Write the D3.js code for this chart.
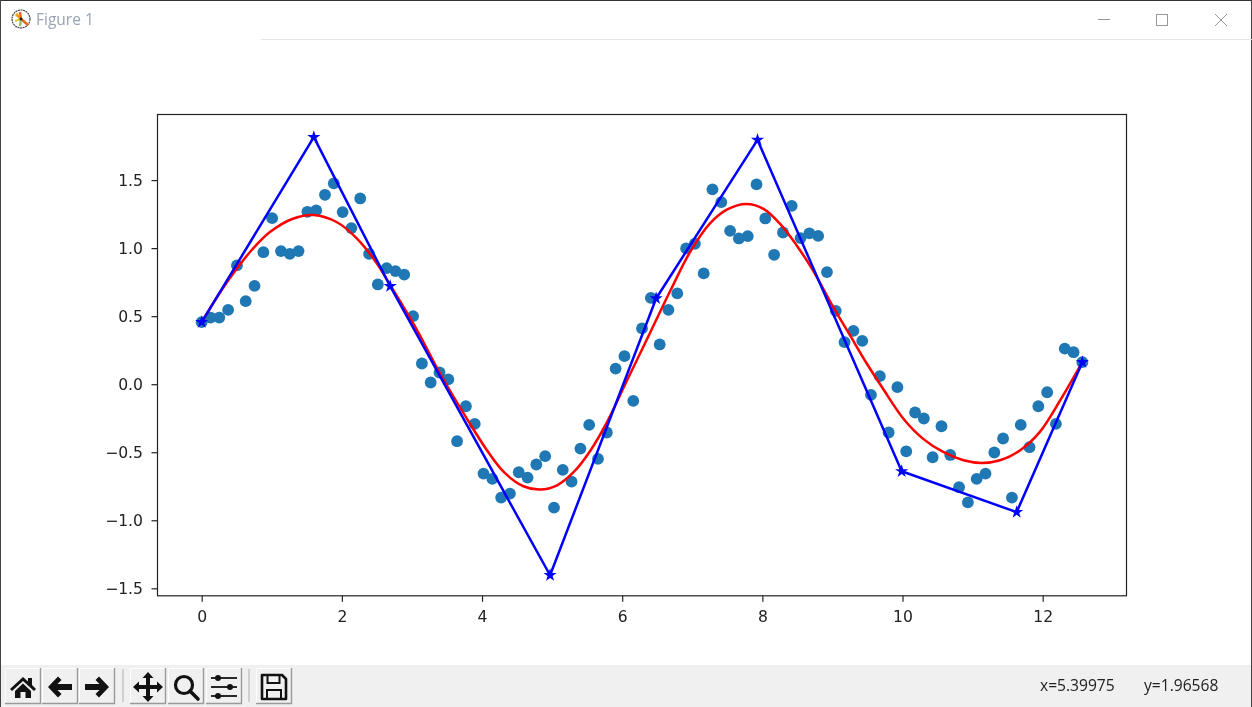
<!DOCTYPE html>
<html>
<head>
<meta charset="utf-8">
<script src="https://d3js.org/d3.v7.min.js"></script>
<style>
  html, body { margin: 0; padding: 0; background: #fff; overflow: hidden; }
  svg { display: block; filter: blur(0.35px); }
</style>
</head>
<body>
<div id="my_dataviz"></div>
<script>
  // noisy samples (scatter)
  var sampleX = [0, 0.126, 0.251, 0.377, 0.503, 0.628, 0.754, 0.880, 1.005, 1.131,
    1.257, 1.382, 1.508, 1.634, 1.759, 1.885, 2.011, 2.136, 2.262, 2.388,
    2.513, 2.639, 2.765, 2.890, 3.016, 3.142, 3.267, 3.393, 3.519, 3.644,
    3.770, 3.896, 4.021, 4.147, 4.273, 4.398, 4.524, 4.650, 4.775, 4.901,
    5.027, 5.152, 5.278, 5.404, 5.529, 5.655, 5.781, 5.906, 6.032, 6.158,
    6.283, 6.409, 6.535, 6.660, 6.786, 6.912, 7.037, 7.163, 7.288, 7.414,
    7.540, 7.665, 7.791, 7.917, 8.042, 8.168, 8.294, 8.419, 8.545, 8.671,
    8.796, 8.922, 9.048, 9.173, 9.299, 9.425, 9.550, 9.676, 9.802, 9.927,
    10.053, 10.179, 10.304, 10.430, 10.556, 10.681, 10.807, 10.933, 11.058, 11.184,
    11.310, 11.435, 11.561, 11.687, 11.812, 11.938, 12.064, 12.189, 12.315, 12.441,
    12.566];
  var sampleY = [0.456, 0.49, 0.49, 0.546, 0.873, 0.61, 0.723, 0.97, 1.22, 0.978,
    0.958, 0.978, 1.267, 1.277, 1.392, 1.476, 1.265, 1.147, 1.365, 0.958,
    0.733, 0.853, 0.831, 0.805, 0.5, 0.152, 0.0125, 0.086, 0.035, -0.419,
    -0.162, -0.292, -0.657, -0.696, -0.833, -0.804, -0.647, -0.686, -0.59, -0.529,
    -0.907, -0.63, -0.716, -0.473, -0.299, -0.549, -0.355, 0.115, 0.206, -0.123,
    0.41, 0.634, 0.292, 0.546, 0.667, 0.998, 1.032, 0.814, 1.432, 1.338,
    1.127, 1.071, 1.088, 1.468, 1.218, 0.951, 1.115, 1.311, 1.074, 1.108,
    1.09, 0.824, 0.539, 0.309, 0.392, 0.318, -0.079, 0.059, -0.355, -0.022,
    -0.493, -0.208, -0.252, -0.537, -0.309, -0.52, -0.757, -0.868, -0.696, -0.657,
    -0.502, -0.399, -0.833, -0.299, -0.463, -0.162, -0.059, -0.292, 0.262, 0.235,
    0.162];

  // smooth fit (red)
  var fitX = [0, 0.25, 0.48, 0.72, 0.978, 1.31, 1.6, 1.93, 2.216, 2.5, 2.69, 3.07, 3.405, 3.786, 4.07, 4.31,
    4.59, 4.83, 5.07, 5.31, 5.55, 5.785, 6.07, 6.4, 6.69, 6.97, 7.25, 7.5, 7.77, 8.01, 8.25,
    8.49, 8.72, 9.01, 9.25, 9.49, 9.72, 10.01, 10.29, 10.58, 10.87, 11.13, 11.39, 11.68, 11.96,
    12.25, 12.566];
  var fitY = [0.456, 0.665, 0.835, 0.99, 1.12, 1.218, 1.243, 1.19, 1.07, 0.887, 0.728, 0.40, 0.075, -0.255,
    -0.485, -0.645, -0.75, -0.774, -0.743, -0.645, -0.485, -0.277, 0.029, 0.38, 0.69, 0.973,
    1.18, 1.284, 1.324, 1.29, 1.18, 1.02, 0.838, 0.568, 0.36, 0.152, -0.032, -0.252, -0.4,
    -0.498, -0.559, -0.579, -0.559, -0.485, -0.35, -0.118, 0.162];

  // extreme points (blue polyline with stars)
  var knotX = [0, 1.6, 2.689, 4.971, 6.484, 7.931, 9.988, 11.629, 12.566];
  var knotY = [0.456, 1.816, 0.72, -1.404, 0.63, 1.795, -0.64, -0.94, 0.162];

  var xTicks = [0, 2, 4, 6, 8, 10, 12];
  var yTicks = [-1.5, -1.0, -0.5, 0.0, 0.5, 1.0, 1.5];

  var W = 1252, H = 707;
  var left = 157.5, right = 1126.5, top_ = 114.5, bottom = 595.8;

  var svg = d3.select("#my_dataviz").append("svg")
    .attr("width", W).attr("height", H)
    .style("font-family", "'DejaVu Sans'");

  var x = d3.scaleLinear().domain([-0.6307, 13.196]).range([left, right]);
  var y = d3.scaleLinear().domain([-1.555, 1.982]).range([bottom, top_]);

  // ---- window chrome ----
  svg.append("rect").attr("width", W).attr("height", H).attr("fill", "#fff");
  svg.append("rect").attr("width", W).attr("height", 1).attr("fill", "#333");
  svg.append("rect").attr("width", 1).attr("height", H).attr("fill", "#444");
  svg.append("rect").attr("x", W - 1).attr("width", 1).attr("height", H).attr("fill", "#444");
  svg.append("line").attr("x1", 261).attr("x2", W).attr("y1", 39.5).attr("y2", 39.5).attr("stroke", "#e6e6e6");

  var icon = svg.append("g").attr("transform", "translate(21,19)");
  icon.append("circle").attr("r", 9).attr("fill", "#fff").attr("stroke", "#444").attr("stroke-width", 1.2).attr("stroke-dasharray", "2 0.6");
  icon.append("path").attr("d", "M0,0L-5,-5").attr("stroke", "#e8a21f").attr("stroke-width", 3);
  icon.append("path").attr("d", "M0,0L-1,-7").attr("stroke", "#e8641f").attr("stroke-width", 2.4);
  icon.append("path").attr("d", "M0,0L7,6").attr("stroke", "#e8641f").attr("stroke-width", 2.4);
  icon.append("path").attr("d", "M0,0L-1,7").attr("stroke", "#8cc46a").attr("stroke-width", 2.4);
  icon.append("path").attr("d", "M0,0L-6,2").attr("stroke", "#e8c83a").attr("stroke-width", 2);
  icon.append("circle").attr("r", 1.5).attr("fill", "#222");

  svg.append("text").attr("x", 36).attr("y", 25).text("Figure 1")
    .style("font-family", "'Open Sans'").style("font-size", "15.5px").attr("fill", "#98a4b4");

  svg.append("path").attr("d", "M1098,19.5H1110").attr("stroke", "#999").attr("fill", "none");
  svg.append("rect").attr("x", 1156.5).attr("y", 14.5).attr("width", 11).attr("height", 11).attr("stroke", "#999").attr("fill", "none");
  svg.append("path").attr("d", "M1215,14L1227,26M1227,14L1215,26").attr("stroke", "#999").attr("fill", "none");

  // ---- axes ----
  svg.append("g").attr("transform", "translate(0," + bottom + ")")
    .call(d3.axisBottom(x).tickValues(xTicks).tickSize(6).tickPadding(9.5).tickFormat(d3.format("d")))
    .call(styleAxis);
  svg.append("g").attr("transform", "translate(" + left + ",0)")
    .call(d3.axisLeft(y).tickValues(yTicks).tickSize(6).tickPadding(8.5)
      .tickFormat(function (d) { return d3.format(".1f")(d).replace("-", "\u2212"); }))
    .call(styleAxis);

  function styleAxis(g) {
    g.select(".domain").remove();
    g.selectAll("line").attr("stroke", "#222").attr("stroke-width", 1.2);
    g.selectAll("text").attr("fill", "#222").style("font-family", "'DejaVu Sans'").style("font-size", "15.6px");
  }

  // ---- marks ----
  svg.selectAll("circle.sample")
    .data(sampleY)
    .enter()
    .append("circle")
    .attr("class", "sample")
    .attr("cx", function (d, i) { return x(sampleX[i]); })
    .attr("cy", function (d) { return y(d); })
    .attr("r", 5.9)
    .attr("fill", "#1f77b4");

  var smooth = d3.line()
    .x(function (d, i) { return x(fitX[i]); })
    .y(function (d) { return y(d); })
    .curve(d3.curveCatmullRom.alpha(0.5));
  svg.append("path").attr("d", smooth(fitY))
    .attr("fill", "none").attr("stroke", "#ff0000").attr("stroke-width", 2.5);

  var poly = d3.line()
    .x(function (d, i) { return x(knotX[i]); })
    .y(function (d) { return y(d); });
  svg.append("path").attr("d", poly(knotY))
    .attr("fill", "none").attr("stroke", "#0000ff").attr("stroke-width", 2.5).attr("stroke-linejoin", "round");

  var star = d3.symbol().type(d3.symbolStar).size(54);
  svg.selectAll("path.knot")
    .data(knotY)
    .enter()
    .append("path")
    .attr("class", "knot")
    .attr("d", star)
    .attr("fill", "#0000ff")
    .attr("transform", function (d, i) { return "translate(" + x(knotX[i]) + "," + y(d) + ")"; });

  // frame goes over the marks
  svg.append("rect").attr("x", left).attr("y", top_).attr("width", right - left).attr("height", bottom - top_)
    .attr("fill", "none").attr("stroke", "#222").attr("stroke-width", 1.2);

  // ---- toolbar ----
  svg.append("rect").attr("x", 1).attr("y", 665).attr("width", W - 2).attr("height", 42).attr("fill", "#f0f0f0");

  var buttons = [
    { x: 5, name: "home" }, { x: 42, name: "back" }, { x: 79, name: "forward" },
    { x: 130, name: "move" }, { x: 168, name: "zoom" }, { x: 206, name: "sliders" },
    { x: 256, name: "save" }
  ];
  var seps = [123, 249];

  seps.forEach(function (s) {
    svg.append("rect").attr("x", s - 1).attr("y", 669).attr("width", 2).attr("height", 33).attr("fill", "#d0d0d0");
  });

  buttons.forEach(function (b) {
    var g = svg.append("g").attr("transform", "translate(" + b.x + ",668)");
    g.append("rect").attr("width", 36).attr("height", 36).attr("fill", "#f0f0f0");
    g.append("path").attr("d", "M0.5,36V0.5H36").attr("fill", "none").attr("stroke", "#fff");
    g.append("path").attr("d", "M0,35.5H35.5V0").attr("fill", "none").attr("stroke", "#9a9a9a").attr("stroke-width", 1.4);
    var c = g.append("g").attr("transform", "translate(18,19)");
    drawIcon(c, b.name);
  });

  function drawIcon(c, name) {
    var ink = "#111";
    if (name == "home") {
      c.append("path").attr("d", "M-13,2L0,-10L5,-5.5V-9H9V-2L13,2L11,4L0,-6L-11,4Z").attr("fill", ink);
      c.append("path").attr("d", "M-8,4L0,-3.5L8,4V11H2.5V5H-2.5V11H-8Z").attr("fill", ink);
    } else if (name == "back" || name == "forward") {
      var a = c.append("path").attr("d", "M-12,0L-2,-10.5L1.5,-7L-2.5,-3H12V3H-2.5L1.5,7L-2,10.5Z").attr("fill", ink);
      if (name == "forward") a.attr("transform", "scale(-1,1)");
    } else if (name == "move") {
      c.append("path").attr("d", "M-2,-9H-5.5L0,-15L5.5,-9H2V-2H9V-5.5L15,0L9,5.5V2H2V9H5.5L0,15L-5.5,9H-2V2H-9V5.5L-15,0L-9,-5.5V-2H-2Z").attr("fill", ink);
    } else if (name == "zoom") {
      c.append("circle").attr("cx", -2).attr("cy", -2).attr("r", 8.5).attr("fill", "none").attr("stroke", ink).attr("stroke-width", 3.2);
      c.append("path").attr("d", "M4,4L12,12").attr("stroke", ink).attr("stroke-width", 3.6).attr("stroke-linecap", "round");
    } else if (name == "sliders") {
      [-9, 0, 9].forEach(function (ly, i) {
        c.append("path").attr("d", "M-13," + ly + "H13").attr("stroke", ink).attr("stroke-width", 1.8);
        c.append("circle").attr("cx", [-6, 6, -6][i]).attr("cy", ly).attr("r", 3).attr("fill", ink);
      });
    } else if (name == "save") {
      c.append("path").attr("d", "M-12,-12H8L12,-8V12H-12Z").attr("fill", "none").attr("stroke", ink).attr("stroke-width", 2.6).attr("stroke-linejoin", "round");
      c.append("path").attr("d", "M-6.5,-12V-4H5.5V-12").attr("fill", "none").attr("stroke", ink).attr("stroke-width", 2);
      c.append("path").attr("d", "M-7,12V3H7V12").attr("fill", "none").attr("stroke", ink).attr("stroke-width", 2);
    }
  }

  svg.append("text").attr("x", 1040).attr("y", 691).text("x=5.39975")
    .style("font-family", "'Open Sans'").style("font-size", "15.6px").attr("fill", "#222");
  svg.append("text").attr("x", 1144).attr("y", 691).text("y=1.96568")
    .style("font-family", "'Open Sans'").style("font-size", "15.6px").attr("fill", "#222");
</script>
</body>
</html>
